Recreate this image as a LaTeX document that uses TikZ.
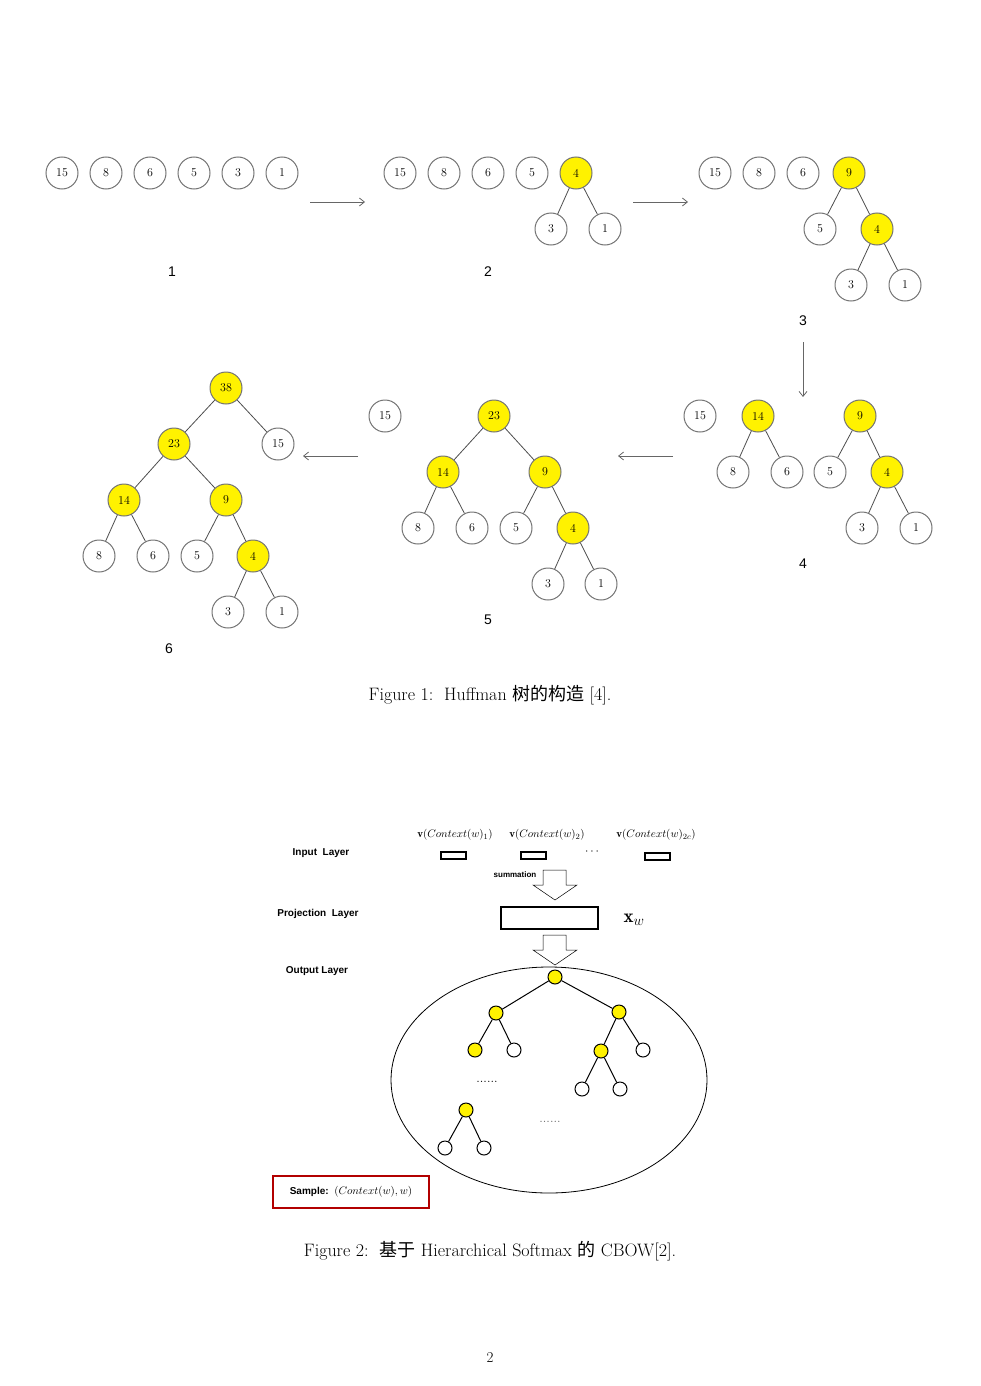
\documentclass[tikz,border=0pt]{standalone}
\usepackage{fontspec}
\newfontfamily\cjk{Noto Sans CJK SC}
\newfontfamily\lsans{Liberation Sans}
\usetikzlibrary{arrows.meta}
\begin{document}
\begin{tikzpicture}[x=1pt,y=-1pt,
 hn/.style={circle,draw=black!55,line width=1pt,minimum size=32pt,inner sep=0pt,font=\fontsize{12}{12}\selectfont},
 yn/.style={hn,fill=yellow},
 ed/.style={draw=black!70,line width=0.8pt},
 st/.style={font=\lsans\fontsize{14}{14}\selectfont},
 ar/.style={draw=black!60,line width=0.8pt,-{Straight Barb[length=5pt,width=8pt]}},
 sn/.style={circle,draw,line width=1pt,minimum size=14pt,inner sep=0pt},
 sy/.style={sn,fill=yellow},
 lay/.style={font=\lsans\bfseries\fontsize{10}{10}\selectfont},
 ib/.style={draw,line width=2pt,minimum width=25pt,minimum height=7pt,inner sep=0pt},
 hol/.style={draw,fill=white,line width=0.5pt}]
\useasboundingbox (0,0) rectangle (980,1386);
% tree 1
\foreach \v/\x in {15/62,8/106,6/150,5/194,3/238,1/282}{\node[hn] (a\v) at (\x,173) {\v};}
\node[st] (l1) at (172,272) {1};
\coordinate (r1s) at (310,202); \coordinate (r1e) at (365,202);
\draw[ar] (r1s) -- (r1e);
% tree 2
\foreach \v/\x in {15/400,8/444,6/488,5/532}{\node[hn] (b\v) at (\x,173) {\v};}
\node[yn] (b4) at (576,173) {4};
\node[hn] (b3) at (551,229) {3}; \node[hn] (b1) at (605,229) {1};
\draw[ed] (b4)--(b3) (b4)--(b1);
\node[st] (l2) at (488,272) {2};
\coordinate (r2s) at (633,202); \coordinate (r2e) at (688,202);
\draw[ar] (r2s) -- (r2e);
% tree 3
\foreach \v/\x in {15/715,8/759,6/803}{\node[hn] (c\v) at (\x,173) {\v};}
\node[yn] (c9) at (849,173) {9};
\node[hn] (c5) at (820,229) {5}; \node[yn] (c4) at (877,229) {4};
\node[hn] (c3) at (851,285) {3}; \node[hn] (c1) at (905,285) {1};
\draw[ed] (c9)--(c5) (c9)--(c4) (c4)--(c3) (c4)--(c1);
\node[st] (l3) at (803,321) {3};
\coordinate (r3s) at (803,342); \coordinate (r3e) at (803,397);
\draw[ar] (r3s) -- (r3e);
% tree 4
\node[hn] (d15) at (700,416) {15};
\node[yn] (d14) at (758,416) {14};
\node[hn] (d8) at (733,472) {8}; \node[hn] (d6) at (787,472) {6};
\node[yn] (d9) at (860,416) {9};
\node[hn] (d5) at (830,472) {5}; \node[yn] (d4) at (887,472) {4};
\node[hn] (d3) at (862,528) {3}; \node[hn] (d1) at (916,528) {1};
\draw[ed] (d14)--(d8) (d14)--(d6) (d9)--(d5) (d9)--(d4) (d4)--(d3) (d4)--(d1);
\node[st] (l4) at (803,564) {4};
\coordinate (r4s) at (673,456); \coordinate (r4e) at (618,456);
\draw[ar] (r4s) -- (r4e);
% tree 5
\node[hn] (e15) at (385,416) {15};
\node[yn] (e23) at (494,416) {23};
\node[yn] (e14) at (443,472) {14}; \node[yn] (e9) at (545,472) {9};
\node[hn] (e8) at (418,528) {8}; \node[hn] (e6) at (472,528) {6};
\node[hn] (e5) at (516,528) {5}; \node[yn] (e4) at (573,528) {4};
\node[hn] (e3) at (548,584) {3}; \node[hn] (e1) at (601,584) {1};
\draw[ed] (e23)--(e14) (e23)--(e9) (e14)--(e8) (e14)--(e6) (e9)--(e5) (e9)--(e4) (e4)--(e3) (e4)--(e1);
\node[st] (l5) at (488,620) {5};
\coordinate (r5s) at (358,456); \coordinate (r5e) at (303,456);
\draw[ar] (r5s) -- (r5e);
% tree 6
\node[yn] (f38) at (226,388) {38};
\node[yn] (f23) at (174,444) {23}; \node[hn] (f15) at (278,444) {15};
\node[yn] (f14) at (124,500) {14}; \node[yn] (f9) at (226,500) {9};
\node[hn] (f8) at (99,556) {8}; \node[hn] (f6) at (153,556) {6};
\node[hn] (f5) at (197,556) {5}; \node[yn] (f4) at (253,556) {4};
\node[hn] (f3) at (228,612) {3}; \node[hn] (f1) at (282,612) {1};
\draw[ed] (f38)--(f23) (f38)--(f15) (f23)--(f14) (f23)--(f9) (f14)--(f8) (f14)--(f6) (f9)--(f5) (f9)--(f4) (f4)--(f3) (f4)--(f1);
\node[st] (l6) at (169,649) {6};
\node[font=\fontsize{18}{18}\selectfont] (cap1) at (490,695) {Figure 1:\ \ Huffman {\cjk 树的构造} [4].};
% figure 2
\node[lay] (il) at (321,853) {Input\ \ Layer};
\node[lay] (pl) at (318,914) {Projection\ \ Layer};
\node[lay] (ol) at (317,971) {Output Layer};
\node[ib] (i1) at (453,855) {};
\node[ib] (i2) at (533,855) {};
\node[ib] (i3) at (657,856) {};
\node[font=\fontsize{11}{11}\selectfont] (t1) at (455,835) {$\mathbf{v}(Context(w)_1)$};
\node[font=\fontsize{11}{11}\selectfont] (t2) at (547,835) {$\mathbf{v}(Context(w)_2)$};
\node[font=\fontsize{11}{11}\selectfont] (t3) at (656,835) {$\mathbf{v}(Context(w)_{2c})$};
\node[font=\fontsize{13}{13}\selectfont] (dots) at (592,852) {$\cdots$};
\node[font=\lsans\bfseries\fontsize{8}{8}\selectfont] (sum) at (515,875) {summation};
\draw[hol] (543,870) -- (566,870) -- (566,885) -- (577,885) -- (555,900) -- (533,885) -- (543,885) -- cycle;
\node[draw,line width=2pt,minimum width=97pt,minimum height=22pt,inner sep=0pt] (proj) at (549,918) {};
\node[font=\fontsize{19}{19}\selectfont] (xw) at (634,920) {$\mathbf{x}_w$};
\draw[hol] (543,935) -- (566,935) -- (566,950) -- (577,950) -- (555,965) -- (533,950) -- (543,950) -- cycle;
\draw[line width=0.8pt] (549,1080) ellipse [x radius=158, y radius=113];
\node[sy] (o1) at (555,977) {};
\node[sy] (o2) at (496,1013) {}; \node[sy] (o3) at (619,1012) {};
\node[sy] (o4) at (475,1050) {}; \node[sn] (o5) at (514,1050) {};
\node[sy] (o6) at (601,1051) {}; \node[sn] (o7) at (643,1050) {};
\node[sn] (o8) at (582,1089) {}; \node[sn] (o9) at (620,1089) {};
\node[sy] (o10) at (466,1110) {};
\node[sn] (o11) at (445,1148) {}; \node[sn] (o12) at (484,1148) {};
\draw[line width=1pt] (o1)--(o2) (o1)--(o3) (o2)--(o4) (o2)--(o5) (o3)--(o6) (o3)--(o7) (o6)--(o8) (o6)--(o9) (o10)--(o11) (o10)--(o12);
\node[font=\fontsize{13}{13}\selectfont] (d1) at (487,1082) {......};
\node[text=black!60,font=\fontsize{13}{13}\selectfont] (d2) at (550,1122) {......};
\node[draw=red!70!black,line width=1.8pt,minimum width=156pt,minimum height=32pt] (samp) at (351,1192) {\lsans\bfseries\fontsize{10}{10}\selectfont Sample:\ \ \normalfont\fontsize{11}{11}\selectfont$(Context(w),w)$};
\node[font=\fontsize{18}{18}\selectfont] (cap2) at (490,1251) {Figure 2:\ \ {\cjk 基于} Hierarchical Softmax {\cjk 的} CBOW[2].};
\node[font=\fontsize{15}{15}\selectfont] (pg) at (490,1358) {2};
\end{tikzpicture}
\end{document}
